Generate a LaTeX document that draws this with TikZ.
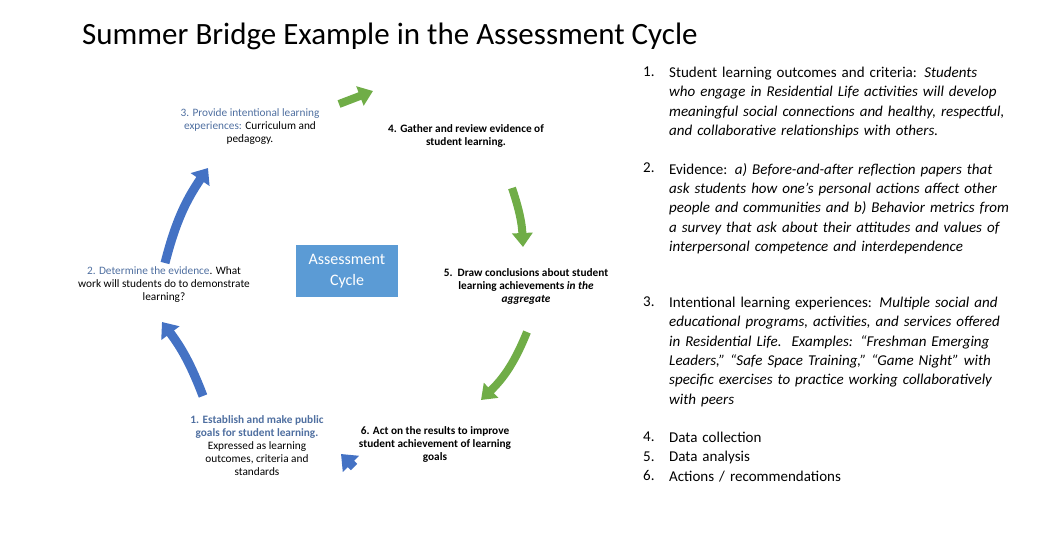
\documentclass[tikz,border=0pt]{standalone}
\usepackage{fontspec}
\setmainfont{Carlito}
\usetikzlibrary{arrows.meta}
\definecolor{gA}{HTML}{70AD47}
\definecolor{bA}{HTML}{4472C4}
\definecolor{boxc}{HTML}{5B9BD5}
\definecolor{lbl}{HTML}{4F6FA0}
\hyphenpenalty=10000
\exhyphenpenalty=10000
\begin{document}
\begin{tikzpicture}[x=1pt,y=-1pt,
  sm/.style={font=\fontsize{11.3}{13}\selectfont,align=center},
  rt/.style={font=\fontsize{15}{19.3}\selectfont,align=left,anchor=north west,text width=352pt,inner sep=0pt},
  num/.style={font=\fontsize{15}{19.3}\selectfont,anchor=north west,inner sep=0pt,align=left},
  garr/.style={draw=gA,line width=8pt,-{Triangle[width=20pt,length=14pt]}},
  barr/.style={draw=bA,line width=9pt,-{Triangle[width=22pt,length=14pt]}}]
\useasboundingbox (0,0) rectangle (1044,540);
\node[anchor=west,inner sep=0pt,font=\fontsize{31}{34}\selectfont] (title) at (82,36) {Summer Bridge Example in the Assessment Cycle};
\node[fill=boxc,text=white,minimum width=102pt,minimum height=52pt,font=\fontsize{16}{21}\selectfont,align=center] (box) at (347,271) {Assessment\\Cycle};
\node[sm] (t3) at (250,127) {\textcolor{lbl}{3. Provide intentional learning}\\\textcolor{lbl}{experiences:} Curriculum and\\pedagogy.};
\node[sm] (t4) at (466,136) {\textbf{4. Gather and review evidence of}\\\textbf{student learning.}};
\node[sm] (t2) at (164,285) {\textcolor{lbl}{2. Determine the evidence}. What\\work will students do to demonstrate\\learning?};
\node[sm] (t5) at (526,286) {\textbf{5.\ \ Draw conclusions about student}\\\textbf{learning achievements \textit{in the}}\\\textbf{\textit{aggregate}}};
\node[sm] (t1) at (257,446) {\textcolor{lbl}{\textbf{1. Establish and make public}}\\\textcolor{lbl}{\textbf{goals for student learning.}}\\Expressed as learning\\outcomes, criteria and\\standards};
\node[sm] (t6) at (435,444) {\textbf{6. Act on the results to improve}\\\textbf{student achievement of learning}\\\textbf{goals}};
% arrows
\coordinate (a1s) at (339,104); \coordinate (a1e) at (373,91);
\draw[garr] (a1s) -- (a1e);
\coordinate (a2s) at (512,188); \coordinate (a2e) at (523,247);
\draw[garr] (a2s) to[bend left=8] (a2e);
\coordinate (a3s) at (527,332); \coordinate (a3e) at (481,400);
\draw[garr] (a3s) to[bend left=12] (a3e);
\coordinate (a4s) at (354,467); \coordinate (a4e) at (341,454);
\draw[barr] (a4s) -- (a4e);
\coordinate (a5s) at (203,396); \coordinate (a5e) at (162,322);
\draw[barr] (a5s) to[bend right=8] (a5e);
\coordinate (a6s) at (165,263); \coordinate (a6e) at (208,168);
\draw[barr] (a6s) to[bend left=10] (a6e);
% right text
\node[num] (n1) at (643,67) {1.};
\node[rt] (r1) at (669,67) {Student learning outcomes and criteria: \textit{Students who engage in Residential Life activities will develop meaningful social connections and healthy, respectful, and collaborative relationships with others.}};
\node[num] (n2) at (643,163) {2.};
\node[rt] (r2) at (669,163) {Evidence: \textit{a) Before-and-after reflection papers that ask students how one’s personal actions affect other people and communities and b) Behavior metrics from a survey that ask about their attitudes and values of interpersonal competence and interdependence}};
\node[num] (n3) at (643,297) {3.};
\node[rt] (r3) at (669,297) {Intentional learning experiences: \textit{Multiple social and educational programs, activities, and services offered in Residential Life.\ \ Examples: “Freshman Emerging Leaders,” “Safe Space Training,” “Game Night” with specific exercises to practice working collaboratively with peers}};
\node[num] (n4) at (643,432) {4.\\5.\\6.};
\node[rt] (r4) at (669,432) {Data collection\\Data analysis\\Actions / recommendations};
\end{tikzpicture}
\end{document}
